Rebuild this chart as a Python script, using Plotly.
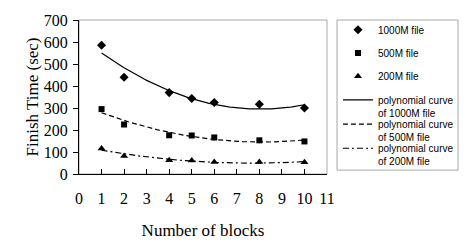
import numpy as np
import plotly.graph_objects as go

blocks = [1, 2, 4, 5, 6, 8, 10]
t_1000 = [585, 440, 370, 343, 325, 317, 300]
t_500 = [295, 225, 176, 175, 166, 153, 148]
t_200 = [116, 82, 63, 61, 54, 54, 53]

x_ticks = list(range(0, 12))
y_ticks = list(range(0, 701, 100))

series = [
    ("1000M file", t_1000, "diamond", 7, "solid", "polynomial curve<br>of 1000M file"),
    ("500M file", t_500, "square", 6, "5px,3px", "polynomial curve<br>of 500M file"),
    ("200M file", t_200, "triangle-up", 7, "6px,3px,2px,3px", "polynomial curve<br>of 200M file"),
]

W, H = 474, 248
L, R, T, B = 79, 147, 15, 74
PW, PH = W - L - R, H - T - B

def px_x(p):
    return (p - L) / PW

def px_y(p):
    return (H - B - p) / PH

fig = go.Figure()

# data markers (also used as legend entries)
for i, (name, vals, sym, size, dash, cname) in enumerate(series):
    fig.add_trace(go.Scatter(x=blocks, y=vals, mode="markers", name=name,
                             legend="legend%d" % (i + 2),
                             marker=dict(symbol=sym, size=size, color="black")))

# polynomial trend curves (2nd order fit of each series)
xs = np.linspace(min(blocks), max(blocks), 100)
for i, (name, vals, sym, size, dash, cname) in enumerate(series):
    coef = np.polyfit(blocks, vals, 2)
    fig.add_trace(go.Scatter(x=xs, y=np.polyval(coef, xs), mode="lines", name=cname,
                             legend="legend%d" % (i + 5),
                             line=dict(color="black", width=1.2, dash=dash)))

legend_font = dict(family="Liberation Sans, Arial", size=10, color="black")
leg_common = dict(font=legend_font, bgcolor="rgba(0,0,0,0)", borderwidth=0,
                  xanchor="left", itemwidth=30)

layout_legends = {}
for i, py in enumerate([25, 49, 73]):
    layout_legends["legend%d" % (i + 2)] = dict(x=px_x(338), y=px_y(py), yanchor="middle",
                                                valign="middle", **leg_common)
for i, py in enumerate([99, 124, 149]):
    layout_legends["legend%d" % (i + 5)] = dict(x=px_x(338), y=px_y(py - 15), yanchor="top",
                                                valign="top", **leg_common)

serif = "Liberation Serif, Times New Roman, serif"

fig.update_layout(
    width=W, height=H,
    margin=dict(l=L, r=R, t=T, b=B, pad=0),
    paper_bgcolor="white", plot_bgcolor="white",
    font=dict(family=serif, size=16, color="black"),
    xaxis=dict(range=[0, 11], tickvals=x_ticks, ticks="inside", ticklen=5, tickcolor="black",
               showline=True, linecolor="black", linewidth=1, showgrid=False, zeroline=False,
               ticklabelstandoff=10, tickfont=dict(family=serif, size=16),
               title=dict(text="Number of blocks", font=dict(family=serif, size=17), standoff=17)),
    yaxis=dict(range=[0, 700], tickvals=y_ticks, ticks="outside", ticklen=5, tickcolor="black",
               showline=True, linecolor="black", linewidth=1, showgrid=False, zeroline=False,
               ticklabelstandoff=2, tickfont=dict(family=serif, size=16),
               title=dict(text="Finish Time (sec)", font=dict(family=serif, size=17), standoff=0)),
    shapes=[
        dict(type="rect", xref="paper", yref="paper", x0=0, x1=1, y0=0, y1=1,
             line=dict(color="#a8a8a8", width=1), layer="below"),
        dict(type="rect", xref="paper", yref="paper", x0=px_x(337), x1=px_x(458),
             y0=px_y(170), y1=px_y(15), line=dict(color="#a8a8a8", width=1), layer="below"),
    ],
    **layout_legends,
)

fig.write_html("out.html")
